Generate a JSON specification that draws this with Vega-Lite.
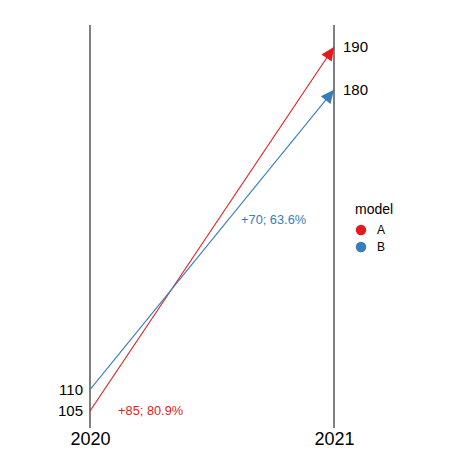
{
  "$schema": "https://vega.github.io/schema/vega-lite/v6.json",
  "width": 474,
  "height": 403,
  "autosize": "none",
  "padding": {"left": 0, "top": 25, "right": 0, "bottom": 46},
  "background": "white",
  "config": {
    "view": {"stroke": null},
    "font": "Liberation Sans",
    "text": {"font": "Liberation Sans"}
  },
  "datasets": {
    "lines": [
      {"model": "A", "year": 2020, "value": 105},
      {"model": "A", "year": 2021, "value": 190},
      {"model": "B", "year": 2020, "value": 110},
      {"model": "B", "year": 2021, "value": 180}
    ],
    "years": [{"year": 2020}, {"year": 2021}],
    "notes": [
      {"model": "A", "x": 2020.115, "y": 105, "label": "+85; 80.9%"},
      {"model": "B", "x": 2020.619, "y": 149.6, "label": "+70; 63.6%"}
    ]
  },
  "layer": [
    {
      "data": {"name": "years"},
      "mark": {"type": "rule", "color": "#2b2b2b", "strokeWidth": 1.2},
      "encoding": {
        "x": {
          "field": "year", "type": "quantitative",
          "scale": {"domain": [2019.63115, 2021.57377], "nice": false, "zero": false},
          "axis": {"values": [2020, 2021], "format": "d", "labelFontSize": 18, "ticks": false, "domain": false, "grid": false, "title": null, "labelPadding": 2, "labelColor": "#000000", "labelFont": "Liberation Sans"}
        }
      }
    },
    {
      "data": {"name": "lines"},
      "mark": {"type": "line", "strokeWidth": 1.1},
      "encoding": {
        "x": {"field": "year", "type": "quantitative", "scale": {"domain": [2019.63115, 2021.57377], "nice": false, "zero": false}},
        "y": {"field": "value", "type": "quantitative", "scale": {"domain": [101.03, 195.14], "nice": false, "zero": false}, "axis": null},
        "color": {
          "field": "model", "type": "nominal",
          "scale": {"domain": ["A", "B"], "range": ["#E41A1C", "#377EB8"]},
          "legend": {
            "title": "model", "orient": "none", "legendX": 355, "legendY": 178,
            "symbolType": "circle", "symbolSize": 110, "symbolStrokeWidth": 0,
            "titleFontSize": 14, "titleFontWeight": "normal", "titleFont": "Liberation Sans", "titleColor": "#000000", "titlePadding": 7,
            "labelFontSize": 12, "labelFont": "Liberation Sans", "labelColor": "#000000", "labelOffset": 10,
            "rowPadding": 5,
            "encode": {"symbols": {"update": {"fill": {"scale": "color", "field": "value"}, "stroke": {"value": "transparent"}}}}
          }
        }
      }
    },
    {
      "data": {"name": "lines"},
      "transform": [{"filter": "datum.model == 'A' && datum.year == 2021"}],
      "mark": {"type": "point", "shape": "M0,0L-0.47,1L0.47,1Z", "filled": true, "opacity": 1, "size": 700, "angle": 33.8, "strokeWidth": 0},
      "encoding": {
        "x": {"field": "year", "type": "quantitative"},
        "y": {"field": "value", "type": "quantitative"},
        "color": {"field": "model", "type": "nominal"}
      }
    },
    {
      "data": {"name": "lines"},
      "transform": [{"filter": "datum.model == 'B' && datum.year == 2021"}],
      "mark": {"type": "point", "shape": "M0,0L-0.47,1L0.47,1Z", "filled": true, "opacity": 1, "size": 700, "angle": 39.1, "strokeWidth": 0},
      "encoding": {
        "x": {"field": "year", "type": "quantitative"},
        "y": {"field": "value", "type": "quantitative"},
        "color": {"field": "model", "type": "nominal"}
      }
    },
    {
      "data": {"name": "lines"},
      "transform": [{"filter": "datum.year == 2021"}],
      "mark": {"type": "text", "align": "left", "baseline": "middle", "dx": 9, "fontSize": 15, "color": "#000000"},
      "encoding": {
        "x": {"field": "year", "type": "quantitative"},
        "y": {"field": "value", "type": "quantitative"},
        "text": {"field": "value", "type": "quantitative"}
      }
    },
    {
      "data": {"name": "lines"},
      "transform": [{"filter": "datum.year == 2020"}],
      "mark": {"type": "text", "align": "right", "baseline": "middle", "dx": -7, "fontSize": 15, "color": "#000000"},
      "encoding": {
        "x": {"field": "year", "type": "quantitative"},
        "y": {"field": "value", "type": "quantitative"},
        "text": {"field": "value", "type": "quantitative"}
      }
    },
    {
      "data": {"name": "notes"},
      "mark": {"type": "text", "align": "left", "baseline": "middle", "fontSize": 12.8},
      "encoding": {
        "x": {"field": "x", "type": "quantitative"},
        "y": {"field": "y", "type": "quantitative"},
        "text": {"field": "label", "type": "nominal"},
        "color": {"field": "model", "type": "nominal"}
      }
    }
  ]
}
